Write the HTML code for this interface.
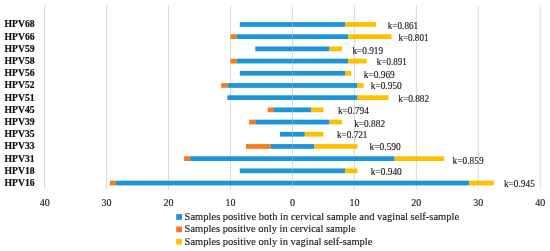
<!DOCTYPE html>
<html><head><meta charset="utf-8"><style>
html,body{margin:0;padding:0;background:#fff;}
svg{display:block;will-change:transform;}
text{font-family:"Liberation Serif",serif;fill:#1e1e1e;stroke:#1e1e1e;stroke-width:0.15px;}
.cat{font-size:10px;font-weight:bold;fill:#111;stroke:#111;stroke-width:0.2px;}
.k{font-size:9.5px;}
.ax{font-size:10px;}
.leg{font-size:10px;}
</style></head><body>
<svg width="550" height="251" viewBox="0 0 550 251">
<rect width="550" height="251" fill="#fff"/>
<rect x="44.15" y="5.4" width="1" height="183.8" fill="#D9D9D9"/>
<rect x="106.10" y="5.4" width="1" height="183.8" fill="#D9D9D9"/>
<rect x="168.05" y="5.4" width="1" height="183.8" fill="#D9D9D9"/>
<rect x="230.00" y="5.4" width="1" height="183.8" fill="#D9D9D9"/>
<rect x="291.95" y="5.4" width="1" height="183.8" fill="#D9D9D9"/>
<rect x="353.90" y="5.4" width="1" height="183.8" fill="#D9D9D9"/>
<rect x="415.85" y="5.4" width="1" height="183.8" fill="#D9D9D9"/>
<rect x="477.80" y="5.4" width="1" height="183.8" fill="#D9D9D9"/>
<rect x="539.75" y="5.4" width="1" height="183.8" fill="#D9D9D9"/>
<rect x="239.79" y="22.10" width="52.66" height="4.75" fill="#1B95D6"/>
<rect x="292.45" y="22.10" width="52.66" height="4.75" fill="#1B95D6"/>
<rect x="291.95" y="22.10" width="1" height="4.75" fill="#fff" fill-opacity="0.1"/>
<rect x="345.11" y="22.10" width="30.98" height="4.75" fill="#FFC000"/>
<rect x="230.50" y="34.30" width="6.20" height="4.75" fill="#F97A1E"/>
<rect x="236.69" y="34.30" width="55.76" height="4.75" fill="#1B95D6"/>
<rect x="292.45" y="34.30" width="55.76" height="4.75" fill="#1B95D6"/>
<rect x="291.95" y="34.30" width="1" height="4.75" fill="#fff" fill-opacity="0.1"/>
<rect x="348.20" y="34.30" width="43.37" height="4.75" fill="#FFC000"/>
<rect x="255.28" y="46.49" width="37.17" height="4.75" fill="#1B95D6"/>
<rect x="292.45" y="46.49" width="37.17" height="4.75" fill="#1B95D6"/>
<rect x="291.95" y="46.49" width="1" height="4.75" fill="#fff" fill-opacity="0.1"/>
<rect x="329.62" y="46.49" width="12.39" height="4.75" fill="#FFC000"/>
<rect x="230.50" y="58.69" width="6.20" height="4.75" fill="#F97A1E"/>
<rect x="236.69" y="58.69" width="55.76" height="4.75" fill="#1B95D6"/>
<rect x="292.45" y="58.69" width="55.76" height="4.75" fill="#1B95D6"/>
<rect x="291.95" y="58.69" width="1" height="4.75" fill="#fff" fill-opacity="0.1"/>
<rect x="348.20" y="58.69" width="18.59" height="4.75" fill="#FFC000"/>
<rect x="239.79" y="70.89" width="52.66" height="4.75" fill="#1B95D6"/>
<rect x="292.45" y="70.89" width="52.66" height="4.75" fill="#1B95D6"/>
<rect x="291.95" y="70.89" width="1" height="4.75" fill="#fff" fill-opacity="0.1"/>
<rect x="345.11" y="70.89" width="6.20" height="4.75" fill="#FFC000"/>
<rect x="221.21" y="83.09" width="6.20" height="4.75" fill="#F97A1E"/>
<rect x="227.40" y="83.09" width="65.05" height="4.75" fill="#1B95D6"/>
<rect x="292.45" y="83.09" width="65.05" height="4.75" fill="#1B95D6"/>
<rect x="291.95" y="83.09" width="1" height="4.75" fill="#fff" fill-opacity="0.1"/>
<rect x="357.50" y="83.09" width="6.20" height="4.75" fill="#FFC000"/>
<rect x="227.40" y="95.28" width="65.05" height="4.75" fill="#1B95D6"/>
<rect x="292.45" y="95.28" width="65.05" height="4.75" fill="#1B95D6"/>
<rect x="291.95" y="95.28" width="1" height="4.75" fill="#fff" fill-opacity="0.1"/>
<rect x="357.50" y="95.28" width="30.98" height="4.75" fill="#FFC000"/>
<rect x="267.67" y="107.48" width="6.20" height="4.75" fill="#F97A1E"/>
<rect x="273.87" y="107.48" width="18.59" height="4.75" fill="#1B95D6"/>
<rect x="292.45" y="107.48" width="18.59" height="4.75" fill="#1B95D6"/>
<rect x="291.95" y="107.48" width="1" height="4.75" fill="#fff" fill-opacity="0.1"/>
<rect x="311.03" y="107.48" width="12.39" height="4.75" fill="#FFC000"/>
<rect x="249.08" y="119.68" width="6.20" height="4.75" fill="#F97A1E"/>
<rect x="255.28" y="119.68" width="37.17" height="4.75" fill="#1B95D6"/>
<rect x="292.45" y="119.68" width="37.17" height="4.75" fill="#1B95D6"/>
<rect x="291.95" y="119.68" width="1" height="4.75" fill="#fff" fill-opacity="0.1"/>
<rect x="329.62" y="119.68" width="12.39" height="4.75" fill="#FFC000"/>
<rect x="280.06" y="131.87" width="12.39" height="4.75" fill="#1B95D6"/>
<rect x="292.45" y="131.87" width="12.39" height="4.75" fill="#1B95D6"/>
<rect x="291.95" y="131.87" width="1" height="4.75" fill="#fff" fill-opacity="0.1"/>
<rect x="304.84" y="131.87" width="18.59" height="4.75" fill="#FFC000"/>
<rect x="245.99" y="144.07" width="24.78" height="4.75" fill="#F97A1E"/>
<rect x="270.77" y="144.07" width="21.68" height="4.75" fill="#1B95D6"/>
<rect x="292.45" y="144.07" width="21.68" height="4.75" fill="#1B95D6"/>
<rect x="291.95" y="144.07" width="1" height="4.75" fill="#fff" fill-opacity="0.1"/>
<rect x="314.13" y="144.07" width="43.37" height="4.75" fill="#FFC000"/>
<rect x="184.04" y="156.27" width="6.20" height="4.75" fill="#F97A1E"/>
<rect x="190.23" y="156.27" width="102.22" height="4.75" fill="#1B95D6"/>
<rect x="292.45" y="156.27" width="102.22" height="4.75" fill="#1B95D6"/>
<rect x="291.95" y="156.27" width="1" height="4.75" fill="#fff" fill-opacity="0.1"/>
<rect x="394.67" y="156.27" width="49.56" height="4.75" fill="#FFC000"/>
<rect x="239.79" y="168.46" width="52.66" height="4.75" fill="#1B95D6"/>
<rect x="292.45" y="168.46" width="52.66" height="4.75" fill="#1B95D6"/>
<rect x="291.95" y="168.46" width="1" height="4.75" fill="#fff" fill-opacity="0.1"/>
<rect x="345.11" y="168.46" width="12.39" height="4.75" fill="#FFC000"/>
<rect x="109.70" y="180.66" width="6.20" height="4.75" fill="#F97A1E"/>
<rect x="115.89" y="180.66" width="176.56" height="4.75" fill="#1B95D6"/>
<rect x="292.45" y="180.66" width="176.56" height="4.75" fill="#1B95D6"/>
<rect x="291.95" y="180.66" width="1" height="4.75" fill="#fff" fill-opacity="0.1"/>
<rect x="469.01" y="180.66" width="24.78" height="4.75" fill="#FFC000"/>
<text x="4.5" y="27.30" class="cat" textLength="30.1" lengthAdjust="spacingAndGlyphs">HPV68</text>
<text x="4.5" y="39.52" class="cat" textLength="30.1" lengthAdjust="spacingAndGlyphs">HPV66</text>
<text x="4.5" y="51.73" class="cat" textLength="30.1" lengthAdjust="spacingAndGlyphs">HPV59</text>
<text x="4.5" y="63.94" class="cat" textLength="30.1" lengthAdjust="spacingAndGlyphs">HPV58</text>
<text x="4.5" y="76.16" class="cat" textLength="30.1" lengthAdjust="spacingAndGlyphs">HPV56</text>
<text x="4.5" y="88.38" class="cat" textLength="30.1" lengthAdjust="spacingAndGlyphs">HPV52</text>
<text x="4.5" y="100.59" class="cat" textLength="30.1" lengthAdjust="spacingAndGlyphs">HPV51</text>
<text x="4.5" y="112.80" class="cat" textLength="30.1" lengthAdjust="spacingAndGlyphs">HPV45</text>
<text x="4.5" y="125.02" class="cat" textLength="30.1" lengthAdjust="spacingAndGlyphs">HPV39</text>
<text x="4.5" y="137.24" class="cat" textLength="30.1" lengthAdjust="spacingAndGlyphs">HPV35</text>
<text x="4.5" y="149.45" class="cat" textLength="30.1" lengthAdjust="spacingAndGlyphs">HPV33</text>
<text x="4.5" y="161.67" class="cat" textLength="30.1" lengthAdjust="spacingAndGlyphs">HPV31</text>
<text x="4.5" y="173.88" class="cat" textLength="30.1" lengthAdjust="spacingAndGlyphs">HPV18</text>
<text x="4.5" y="186.09" class="cat" textLength="30.1" lengthAdjust="spacingAndGlyphs">HPV16</text>
<text x="387.80" y="28.80" class="k" textLength="30.30" lengthAdjust="spacingAndGlyphs">k=0.861</text>
<text x="398.50" y="41.30" class="k" textLength="29.90" lengthAdjust="spacingAndGlyphs">k=0.801</text>
<text x="352.50" y="53.80" class="k" textLength="30.60" lengthAdjust="spacingAndGlyphs">k=0.919</text>
<text x="376.80" y="64.70" class="k" textLength="29.90" lengthAdjust="spacingAndGlyphs">k=0.891</text>
<text x="363.80" y="77.60" class="k" textLength="31.00" lengthAdjust="spacingAndGlyphs">k=0.969</text>
<text x="370.70" y="89.30" class="k" textLength="31.10" lengthAdjust="spacingAndGlyphs">k=0.950</text>
<text x="398.30" y="101.80" class="k" textLength="30.80" lengthAdjust="spacingAndGlyphs">k=0.882</text>
<text x="337.90" y="114.20" class="k" textLength="30.90" lengthAdjust="spacingAndGlyphs">k=0.794</text>
<text x="354.20" y="126.50" class="k" textLength="30.90" lengthAdjust="spacingAndGlyphs">k=0.882</text>
<text x="336.90" y="138.40" class="k" textLength="30.60" lengthAdjust="spacingAndGlyphs">k=0.721</text>
<text x="369.50" y="149.80" class="k" textLength="31.30" lengthAdjust="spacingAndGlyphs">k=0.590</text>
<text x="452.50" y="163.50" class="k" textLength="31.10" lengthAdjust="spacingAndGlyphs">k=0.859</text>
<text x="370.80" y="175.20" class="k" textLength="31.00" lengthAdjust="spacingAndGlyphs">k=0.940</text>
<text x="503.90" y="186.80" class="k" textLength="30.90" lengthAdjust="spacingAndGlyphs">k=0.945</text>
<text x="44.65" y="206" class="ax" text-anchor="middle">40</text>
<text x="106.60" y="206" class="ax" text-anchor="middle">30</text>
<text x="168.55" y="206" class="ax" text-anchor="middle">20</text>
<text x="230.50" y="206" class="ax" text-anchor="middle">10</text>
<text x="292.45" y="206" class="ax" text-anchor="middle">0</text>
<text x="354.40" y="206" class="ax" text-anchor="middle">10</text>
<text x="416.35" y="206" class="ax" text-anchor="middle">20</text>
<text x="478.30" y="206" class="ax" text-anchor="middle">30</text>
<text x="540.25" y="206" class="ax" text-anchor="middle">40</text>
<rect x="176.2" y="214.05" width="5.8" height="5.8" fill="#1B95D6"/>
<text x="184.6" y="219.80" class="leg" textLength="274.5" lengthAdjust="spacingAndGlyphs">Samples positive both in cervical sample and vaginal self-sample</text>
<rect x="176.2" y="226.45" width="5.8" height="5.8" fill="#F97A1E"/>
<text x="184.6" y="232.20" class="leg" textLength="171.0" lengthAdjust="spacingAndGlyphs">Samples positive only in cervical sample</text>
<rect x="176.2" y="238.85" width="5.8" height="5.8" fill="#FFC000"/>
<text x="184.6" y="244.60" class="leg" textLength="187.8" lengthAdjust="spacingAndGlyphs">Samples positive only in vaginal self-sample</text>
</svg>
</body></html>
